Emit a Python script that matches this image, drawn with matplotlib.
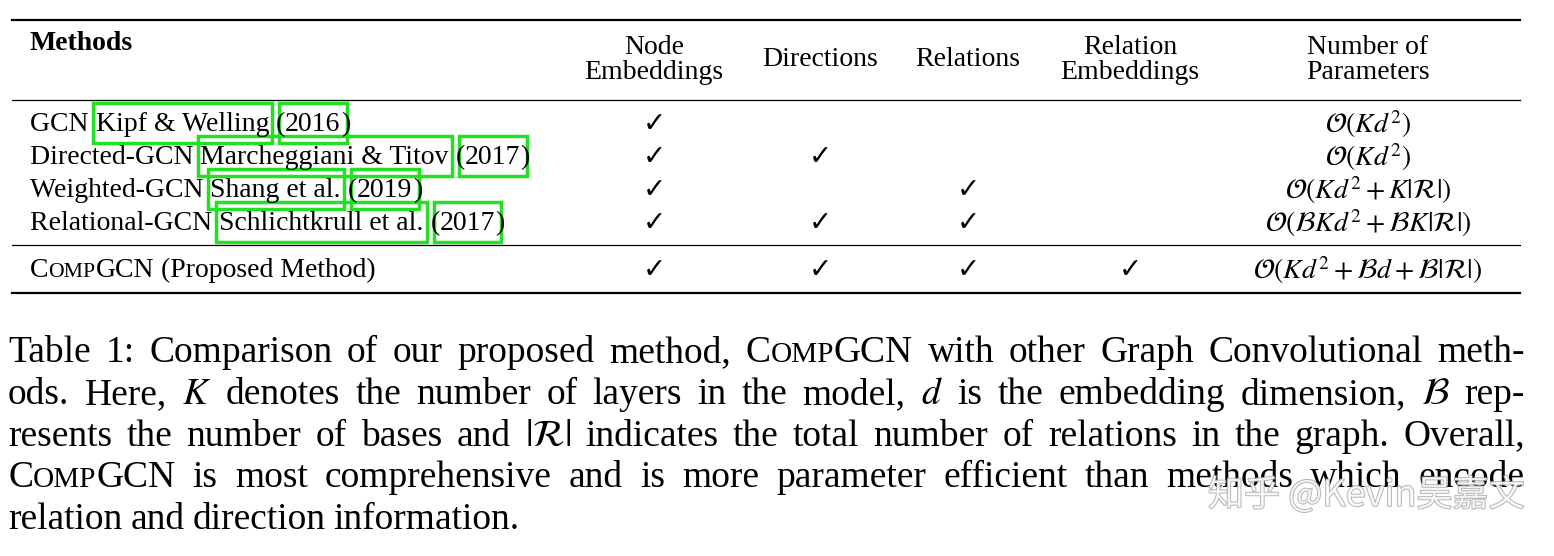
import matplotlib
matplotlib.use("Agg")
import matplotlib.pyplot as plt
import matplotlib.patheffects as pe
from matplotlib.patches import Rectangle

plt.rcParams['font.family'] = ['Liberation Serif', 'DejaVu Serif']
plt.rcParams['mathtext.fontset'] = 'stix'

# table data
headers = ["Node\nEmbeddings", "Directions", "Relations", "Relation\nEmbeddings", "Number of\nParameters"]
methods = ["GCN", "Directed-GCN", "Weighted-GCN", "Relational-GCN"]
cite_names = ["Kipf & Welling", "Marcheggiani & Titov", "Shang et al.", "Schlichtkrull et al."]
cite_years = ["2016", "2017", "2019", "2017"]
checks = [
    [1, 0, 0, 0],
    [1, 1, 0, 0],
    [1, 0, 1, 0],
    [1, 1, 1, 0],
]
params = [r"$\mathcal{O}(Kd^2)$", r"$\mathcal{O}(Kd^2)$",
          r"$\mathcal{O}(Kd^2 + K|\mathcal{R}|)$",
          r"$\mathcal{O}(\mathcal{B}Kd^2 + \mathcal{B}K|\mathcal{R}|)$"]
proposed_checks = [1, 1, 1, 1]
proposed_params = r"$\mathcal{O}(Kd^2 + \mathcal{B}d + \mathcal{B}|\mathcal{R}|)$"

W, H = 1554, 556
fig = plt.figure(figsize=(W / 100, H / 100), dpi=100)
ax = fig.add_axes([0, 0, 1, 1])
ax.set_xlim(0, W)
ax.set_ylim(H, 0)
ax.axis('off')
fig.canvas.draw()
rend = fig.canvas.get_renderer()

FS = 20
CAP = 27


def piece(x, y, s, size, **kw):
    t = ax.text(x, y, s, fontsize=size, va='baseline', ha='left', **kw)
    bb = t.get_window_extent(rend)
    return t, bb.width


def smallcaps(x, y, size, draw=True):
    parts = [("C", size), ("OMP", size * 0.78), ("GCN", size)]
    w = 0
    for s, sz in parts:
        t, pw = piece(x + w, y, s, sz)
        if not draw:
            t.remove()
        w += pw
    return w


# rules
ax.plot([12, 1520], [20, 20], color='black', lw=1.6)
ax.plot([12, 1520], [100, 100], color='black', lw=0.9)
ax.plot([12, 1520], [245, 245], color='black', lw=0.9)
ax.plot([12, 1520], [293, 293], color='black', lw=1.6)

col_x = [654, 820, 968, 1130, 1368]
ax.text(30, 44, "Methods", fontsize=FS, fontweight='bold', va='center', ha='left')
for cx, h in zip(col_x, headers):
    ax.text(cx, 60, h, fontsize=FS, va='center', ha='center', linespacing=1.05)

row_y = [131, 164, 197, 230]
for i, y in enumerate(row_y):
    x = 30
    _, w = piece(x, y, methods[i] + " ", FS); x += w
    t, w = piece(x, y, cite_names[i], FS)
    ax.add_patch(Rectangle((x - 3, y - 28), w + 6, 40, fill=False, ec='#22e022', lw=2.5))
    x += w
    _, w = piece(x, y, " (", FS); x += w
    x0 = x - 6
    _, w = piece(x, y, cite_years[i], FS); x += w
    _, w = piece(x, y, ")", FS)
    ax.add_patch(Rectangle((x0, y - 28), x - x0 + 6, 40, fill=False, ec='#22e022', lw=2.5))
    for cx, c in zip(col_x[:4], checks[i]):
        if c:
            ax.text(cx, y - 7, "✓", fontsize=FS, ha='center', va='center', family='DejaVu Sans')
    ax.text(col_x[4], y - 7, params[i], fontsize=FS, ha='center', va='center')

y = 277
w = smallcaps(30, y, FS)
piece(30 + w, y, " (Proposed Method)", FS)
for cx, c in zip(col_x[:4], proposed_checks):
    if c:
        ax.text(cx, y - 7, "✓", fontsize=FS, ha='center', va='center', family='DejaVu Sans')
ax.text(col_x[4], y - 7, proposed_params, fontsize=FS, ha='center', va='center')

# caption, justified
caption_lines = [
    ["Table", "1:", "Comparison", "of", "our", "proposed", "method,", "@SC", "with", "other", "Graph", "Convolutional", "meth-"],
    ["ods.", "Here,", "$K$", "denotes", "the", "number", "of", "layers", "in", "the", "model,", "$d$", "is", "the", "embedding", "dimension,", r"$\mathcal{B}$", "rep-"],
    ["resents", "the", "number", "of", "bases", "and", r"$|\mathcal{R}|$", "indicates", "the", "total", "number", "of", "relations", "in", "the", "graph.", "Overall,"],
    ["@SC", "is", "most", "comprehensive", "and", "is", "more", "parameter", "efficient", "than", "methods", "which", "encode"],
    ["relation", "and", "direction", "information."],
]
cap_y = [362, 404, 446, 487, 529]
left, right = 8, 1525


def word_width(wd):
    if wd == "@SC":
        return smallcaps(0, 0, CAP, draw=False)
    t, w = piece(0, 0, wd, CAP)
    t.remove()
    return w


for li, (words, yy) in enumerate(zip(caption_lines, cap_y)):
    widths = [word_width(wd) for wd in words]
    last = li == len(caption_lines) - 1
    gap = 8 if last else (right - left - sum(widths)) / (len(words) - 1)
    x = left
    for wd, w in zip(words, widths):
        if wd == "@SC":
            smallcaps(x, yy, CAP)
        else:
            piece(x, yy, wd, CAP)
        x += w + gap

# watermark
ax.text(1525, 495, "知乎 @Kevin吴嘉文", fontsize=26, color='white', alpha=0.75,
        ha='right', va='center', family=['Noto Sans CJK SC', 'DejaVu Sans'],
        path_effects=[pe.withStroke(linewidth=1.2, foreground='#999999')])

fig.savefig("out.png", dpi=100)
